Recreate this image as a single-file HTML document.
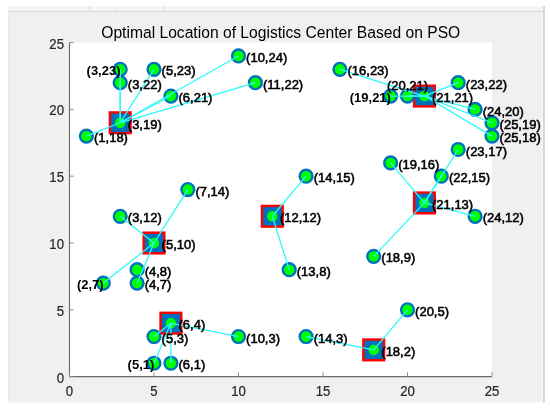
<!DOCTYPE html>
<html><head><meta charset="utf-8"><style>
html,body{margin:0;padding:0;background:#fff;}
body{width:550px;height:408px;overflow:hidden;}
svg{display:block;}
.tk{font-family:"Liberation Sans",Arial,sans-serif;font-size:13.2px;fill:#262626;stroke:#262626;stroke-width:0.2px;}
.ti{font-family:"Liberation Sans",Arial,sans-serif;font-size:15.65px;fill:#000;}
.lb{font-family:"Liberation Sans",Arial,sans-serif;font-size:13px;font-weight:normal;fill:#000;stroke:#000;stroke-width:0.55px;}
.lbb{font-weight:bold;stroke:none;}
</style></head><body>
<svg width="550" height="408" viewBox="0 0 550 408">
<rect x="8" y="6" width="537" height="396.4" fill="#f0f0f0"/>
<rect x="8" y="6" width="1.5" height="396.4" fill="#eaeaea"/>
<rect x="541.5" y="6" width="1.5" height="396.4" fill="#f6f6f6"/>
<rect x="8" y="6" width="535" height="5" fill="#f5f5f5"/>
<rect x="8" y="11" width="535" height="1" fill="#d9d9d9"/>
<rect x="543" y="6" width="2" height="396.4" fill="#d6d6d6"/>
<rect x="89" y="6.5" width="1" height="4" fill="#cfcfcf"/>
<rect x="115" y="6.5" width="1" height="4" fill="#e4e4e4"/>
<rect x="164" y="6.5" width="1" height="4" fill="#cfcfcf"/>
<rect x="69.50" y="42.60" width="422.50" height="334.00" fill="#ffffff"/>
<path d="M69.50 42.60 V376.60 H492.00" fill="none" stroke="#6a6a6a" stroke-width="1.15"/>
<line x1="69.50" y1="376.60" x2="69.50" y2="372.40" stroke="#8c8c8c" stroke-width="1"/>
<line x1="69.50" y1="376.60" x2="73.70" y2="376.60" stroke="#8c8c8c" stroke-width="1"/>
<text transform="translate(69.50,395.70) scale(1,1.07)" class="tk" text-anchor="middle">0</text>
<text transform="translate(64.00,382.50) scale(1,1.07)" class="tk" text-anchor="end">0</text>
<line x1="154.00" y1="376.60" x2="154.00" y2="372.40" stroke="#8c8c8c" stroke-width="1"/>
<line x1="69.50" y1="309.80" x2="73.70" y2="309.80" stroke="#8c8c8c" stroke-width="1"/>
<text transform="translate(154.00,395.70) scale(1,1.07)" class="tk" text-anchor="middle">5</text>
<text transform="translate(64.00,315.70) scale(1,1.07)" class="tk" text-anchor="end">5</text>
<line x1="238.50" y1="376.60" x2="238.50" y2="372.40" stroke="#8c8c8c" stroke-width="1"/>
<line x1="69.50" y1="243.00" x2="73.70" y2="243.00" stroke="#8c8c8c" stroke-width="1"/>
<text transform="translate(238.50,395.70) scale(1,1.07)" class="tk" text-anchor="middle">10</text>
<text transform="translate(64.00,248.90) scale(1,1.07)" class="tk" text-anchor="end">10</text>
<line x1="323.00" y1="376.60" x2="323.00" y2="372.40" stroke="#8c8c8c" stroke-width="1"/>
<line x1="69.50" y1="176.20" x2="73.70" y2="176.20" stroke="#8c8c8c" stroke-width="1"/>
<text transform="translate(323.00,395.70) scale(1,1.07)" class="tk" text-anchor="middle">15</text>
<text transform="translate(64.00,182.10) scale(1,1.07)" class="tk" text-anchor="end">15</text>
<line x1="407.50" y1="376.60" x2="407.50" y2="372.40" stroke="#8c8c8c" stroke-width="1"/>
<line x1="69.50" y1="109.40" x2="73.70" y2="109.40" stroke="#8c8c8c" stroke-width="1"/>
<text transform="translate(407.50,395.70) scale(1,1.07)" class="tk" text-anchor="middle">20</text>
<text transform="translate(64.00,115.30) scale(1,1.07)" class="tk" text-anchor="end">20</text>
<line x1="492.00" y1="376.60" x2="492.00" y2="372.40" stroke="#8c8c8c" stroke-width="1"/>
<line x1="69.50" y1="42.60" x2="73.70" y2="42.60" stroke="#8c8c8c" stroke-width="1"/>
<text transform="translate(492.00,395.70) scale(1,1.07)" class="tk" text-anchor="middle">25</text>
<text transform="translate(64.00,48.50) scale(1,1.07)" class="tk" text-anchor="end">25</text>
<text x="280.75" y="37.7" class="ti" text-anchor="middle">Optimal Location of Logistics Center Based on PSO</text>
<rect x="109.85" y="112.41" width="20.7" height="20.7" fill="#0072bd" stroke="#ff0000" stroke-width="2.4"/>
<rect x="414.05" y="85.69" width="20.7" height="20.7" fill="#0072bd" stroke="#ff0000" stroke-width="2.4"/>
<rect x="261.95" y="205.93" width="20.7" height="20.7" fill="#0072bd" stroke="#ff0000" stroke-width="2.4"/>
<rect x="414.05" y="192.57" width="20.7" height="20.7" fill="#0072bd" stroke="#ff0000" stroke-width="2.4"/>
<rect x="143.65" y="232.65" width="20.7" height="20.7" fill="#0072bd" stroke="#ff0000" stroke-width="2.4"/>
<rect x="160.55" y="312.81" width="20.7" height="20.7" fill="#0072bd" stroke="#ff0000" stroke-width="2.4"/>
<rect x="363.35" y="339.53" width="20.7" height="20.7" fill="#0072bd" stroke="#ff0000" stroke-width="2.4"/>
<circle cx="86.40" cy="136.12" r="6.4" fill="#00ff00" stroke="#0072bd" stroke-width="2.4"/>
<circle cx="120.20" cy="82.68" r="6.4" fill="#00ff00" stroke="#0072bd" stroke-width="2.4"/>
<circle cx="120.20" cy="69.32" r="6.4" fill="#00ff00" stroke="#0072bd" stroke-width="2.4"/>
<circle cx="154.00" cy="69.32" r="6.4" fill="#00ff00" stroke="#0072bd" stroke-width="2.4"/>
<circle cx="170.90" cy="96.04" r="6.4" fill="#00ff00" stroke="#0072bd" stroke-width="2.4"/>
<circle cx="238.50" cy="55.96" r="6.4" fill="#00ff00" stroke="#0072bd" stroke-width="2.4"/>
<circle cx="255.40" cy="82.68" r="6.4" fill="#00ff00" stroke="#0072bd" stroke-width="2.4"/>
<circle cx="339.90" cy="69.32" r="6.4" fill="#00ff00" stroke="#0072bd" stroke-width="2.4"/>
<circle cx="390.60" cy="96.04" r="6.4" fill="#00ff00" stroke="#0072bd" stroke-width="2.4"/>
<circle cx="407.50" cy="96.04" r="6.4" fill="#00ff00" stroke="#0072bd" stroke-width="2.4"/>
<circle cx="458.20" cy="82.68" r="6.4" fill="#00ff00" stroke="#0072bd" stroke-width="2.4"/>
<circle cx="475.10" cy="109.40" r="6.4" fill="#00ff00" stroke="#0072bd" stroke-width="2.4"/>
<circle cx="492.00" cy="122.76" r="6.4" fill="#00ff00" stroke="#0072bd" stroke-width="2.4"/>
<circle cx="492.00" cy="136.12" r="6.4" fill="#00ff00" stroke="#0072bd" stroke-width="2.4"/>
<circle cx="306.10" cy="176.20" r="6.4" fill="#00ff00" stroke="#0072bd" stroke-width="2.4"/>
<circle cx="289.20" cy="269.72" r="6.4" fill="#00ff00" stroke="#0072bd" stroke-width="2.4"/>
<circle cx="390.60" cy="162.84" r="6.4" fill="#00ff00" stroke="#0072bd" stroke-width="2.4"/>
<circle cx="441.30" cy="176.20" r="6.4" fill="#00ff00" stroke="#0072bd" stroke-width="2.4"/>
<circle cx="458.20" cy="149.48" r="6.4" fill="#00ff00" stroke="#0072bd" stroke-width="2.4"/>
<circle cx="475.10" cy="216.28" r="6.4" fill="#00ff00" stroke="#0072bd" stroke-width="2.4"/>
<circle cx="373.70" cy="256.36" r="6.4" fill="#00ff00" stroke="#0072bd" stroke-width="2.4"/>
<circle cx="187.80" cy="189.56" r="6.4" fill="#00ff00" stroke="#0072bd" stroke-width="2.4"/>
<circle cx="120.20" cy="216.28" r="6.4" fill="#00ff00" stroke="#0072bd" stroke-width="2.4"/>
<circle cx="103.30" cy="283.08" r="6.4" fill="#00ff00" stroke="#0072bd" stroke-width="2.4"/>
<circle cx="137.10" cy="269.72" r="6.4" fill="#00ff00" stroke="#0072bd" stroke-width="2.4"/>
<circle cx="137.10" cy="283.08" r="6.4" fill="#00ff00" stroke="#0072bd" stroke-width="2.4"/>
<circle cx="154.00" cy="336.52" r="6.4" fill="#00ff00" stroke="#0072bd" stroke-width="2.4"/>
<circle cx="238.50" cy="336.52" r="6.4" fill="#00ff00" stroke="#0072bd" stroke-width="2.4"/>
<circle cx="154.00" cy="363.24" r="6.4" fill="#00ff00" stroke="#0072bd" stroke-width="2.4"/>
<circle cx="170.90" cy="363.24" r="6.4" fill="#00ff00" stroke="#0072bd" stroke-width="2.4"/>
<circle cx="306.10" cy="336.52" r="6.4" fill="#00ff00" stroke="#0072bd" stroke-width="2.4"/>
<circle cx="407.50" cy="309.80" r="6.4" fill="#00ff00" stroke="#0072bd" stroke-width="2.4"/>
<circle cx="120.20" cy="122.76" r="5.2" fill="#00ff00"/>
<circle cx="424.40" cy="96.04" r="5.2" fill="#00ff00"/>
<circle cx="272.30" cy="216.28" r="5.2" fill="#00ff00"/>
<circle cx="424.40" cy="202.92" r="5.2" fill="#00ff00"/>
<circle cx="154.00" cy="243.00" r="5.2" fill="#00ff00"/>
<circle cx="170.90" cy="323.16" r="5.2" fill="#00ff00"/>
<circle cx="373.70" cy="349.88" r="5.2" fill="#00ff00"/>
<line x1="120.20" y1="122.76" x2="86.40" y2="136.12" stroke="#2cfafa" stroke-width="1.3"/>
<line x1="120.20" y1="122.76" x2="120.20" y2="82.68" stroke="#2cfafa" stroke-width="1.3"/>
<line x1="120.20" y1="122.76" x2="120.20" y2="69.32" stroke="#2cfafa" stroke-width="1.3"/>
<line x1="120.20" y1="122.76" x2="154.00" y2="69.32" stroke="#2cfafa" stroke-width="1.3"/>
<line x1="120.20" y1="122.76" x2="170.90" y2="96.04" stroke="#2cfafa" stroke-width="1.3"/>
<line x1="120.20" y1="122.76" x2="238.50" y2="55.96" stroke="#2cfafa" stroke-width="1.3"/>
<line x1="120.20" y1="122.76" x2="255.40" y2="82.68" stroke="#2cfafa" stroke-width="1.3"/>
<line x1="424.40" y1="96.04" x2="339.90" y2="69.32" stroke="#2cfafa" stroke-width="1.3"/>
<line x1="424.40" y1="96.04" x2="390.60" y2="96.04" stroke="#2cfafa" stroke-width="1.3"/>
<line x1="424.40" y1="96.04" x2="407.50" y2="96.04" stroke="#2cfafa" stroke-width="1.3"/>
<line x1="424.40" y1="96.04" x2="458.20" y2="82.68" stroke="#2cfafa" stroke-width="1.3"/>
<line x1="424.40" y1="96.04" x2="475.10" y2="109.40" stroke="#2cfafa" stroke-width="1.3"/>
<line x1="424.40" y1="96.04" x2="492.00" y2="122.76" stroke="#2cfafa" stroke-width="1.3"/>
<line x1="424.40" y1="96.04" x2="492.00" y2="136.12" stroke="#2cfafa" stroke-width="1.3"/>
<line x1="272.30" y1="216.28" x2="306.10" y2="176.20" stroke="#2cfafa" stroke-width="1.3"/>
<line x1="272.30" y1="216.28" x2="289.20" y2="269.72" stroke="#2cfafa" stroke-width="1.3"/>
<line x1="424.40" y1="202.92" x2="390.60" y2="162.84" stroke="#2cfafa" stroke-width="1.3"/>
<line x1="424.40" y1="202.92" x2="441.30" y2="176.20" stroke="#2cfafa" stroke-width="1.3"/>
<line x1="424.40" y1="202.92" x2="458.20" y2="149.48" stroke="#2cfafa" stroke-width="1.3"/>
<line x1="424.40" y1="202.92" x2="475.10" y2="216.28" stroke="#2cfafa" stroke-width="1.3"/>
<line x1="424.40" y1="202.92" x2="373.70" y2="256.36" stroke="#2cfafa" stroke-width="1.3"/>
<line x1="154.00" y1="243.00" x2="187.80" y2="189.56" stroke="#2cfafa" stroke-width="1.3"/>
<line x1="154.00" y1="243.00" x2="120.20" y2="216.28" stroke="#2cfafa" stroke-width="1.3"/>
<line x1="154.00" y1="243.00" x2="103.30" y2="283.08" stroke="#2cfafa" stroke-width="1.3"/>
<line x1="154.00" y1="243.00" x2="137.10" y2="283.08" stroke="#2cfafa" stroke-width="1.3"/>
<line x1="170.90" y1="323.16" x2="154.00" y2="336.52" stroke="#2cfafa" stroke-width="1.3"/>
<line x1="170.90" y1="323.16" x2="238.50" y2="336.52" stroke="#2cfafa" stroke-width="1.3"/>
<line x1="170.90" y1="323.16" x2="154.00" y2="363.24" stroke="#2cfafa" stroke-width="1.3"/>
<line x1="170.90" y1="323.16" x2="170.90" y2="363.24" stroke="#2cfafa" stroke-width="1.3"/>
<line x1="373.70" y1="349.88" x2="306.10" y2="336.52" stroke="#2cfafa" stroke-width="1.3"/>
<line x1="373.70" y1="349.88" x2="407.50" y2="309.80" stroke="#2cfafa" stroke-width="1.3"/>
<text transform="translate(127.80,128.86) scale(1,1.04)" class="lb" text-anchor="start">(3,19)</text>
<text transform="translate(94.00,142.22) scale(1,1.04)" class="lb" text-anchor="start">(1,18)</text>
<text transform="translate(127.80,88.78) scale(1,1.04)" class="lb" text-anchor="start">(3,22)</text>
<text transform="translate(120.50,75.42) scale(1,1.04)" class="lb lbb" text-anchor="end">(3,23)</text>
<text transform="translate(161.60,75.42) scale(1,1.04)" class="lb" text-anchor="start">(5,23)</text>
<text transform="translate(178.50,102.14) scale(1,1.04)" class="lb" text-anchor="start">(6,21)</text>
<text transform="translate(246.10,62.06) scale(1,1.04)" class="lb" text-anchor="start">(10,24)</text>
<text transform="translate(263.00,88.78) scale(1,1.04)" class="lb" text-anchor="start">(11,22)</text>
<text transform="translate(432.00,102.14) scale(1,1.04)" class="lb" text-anchor="start">(21,21)</text>
<text transform="translate(347.50,75.42) scale(1,1.04)" class="lb" text-anchor="start">(16,23)</text>
<text transform="translate(390.90,102.14) scale(1,1.04)" class="lb lbb" text-anchor="end">(19,21)</text>
<text transform="translate(407.50,90.04) scale(1,1.04)" class="lb" text-anchor="middle">(20,21)</text>
<text transform="translate(465.80,88.78) scale(1,1.04)" class="lb" text-anchor="start">(23,22)</text>
<text transform="translate(482.70,115.50) scale(1,1.04)" class="lb" text-anchor="start">(24,20)</text>
<text transform="translate(499.60,128.86) scale(1,1.04)" class="lb" text-anchor="start">(25,19)</text>
<text transform="translate(499.60,142.22) scale(1,1.04)" class="lb" text-anchor="start">(25,18)</text>
<text transform="translate(279.90,222.38) scale(1,1.04)" class="lb" text-anchor="start">(12,12)</text>
<text transform="translate(313.70,182.30) scale(1,1.04)" class="lb" text-anchor="start">(14,15)</text>
<text transform="translate(296.80,275.82) scale(1,1.04)" class="lb" text-anchor="start">(13,8)</text>
<text transform="translate(432.00,209.02) scale(1,1.04)" class="lb" text-anchor="start">(21,13)</text>
<text transform="translate(398.20,168.94) scale(1,1.04)" class="lb" text-anchor="start">(19,16)</text>
<text transform="translate(448.90,182.30) scale(1,1.04)" class="lb" text-anchor="start">(22,15)</text>
<text transform="translate(465.80,155.58) scale(1,1.04)" class="lb" text-anchor="start">(23,17)</text>
<text transform="translate(482.70,222.38) scale(1,1.04)" class="lb" text-anchor="start">(24,12)</text>
<text transform="translate(381.30,262.46) scale(1,1.04)" class="lb" text-anchor="start">(18,9)</text>
<text transform="translate(161.60,249.10) scale(1,1.04)" class="lb" text-anchor="start">(5,10)</text>
<text transform="translate(195.40,195.66) scale(1,1.04)" class="lb" text-anchor="start">(7,14)</text>
<text transform="translate(127.80,222.38) scale(1,1.04)" class="lb" text-anchor="start">(3,12)</text>
<text transform="translate(103.60,289.18) scale(1,1.04)" class="lb lbb" text-anchor="end">(2,7)</text>
<text transform="translate(144.70,275.82) scale(1,1.04)" class="lb" text-anchor="start">(4,8)</text>
<text transform="translate(144.70,289.18) scale(1,1.04)" class="lb" text-anchor="start">(4,7)</text>
<text transform="translate(178.50,329.26) scale(1,1.04)" class="lb" text-anchor="start">(6,4)</text>
<text transform="translate(161.60,342.62) scale(1,1.04)" class="lb" text-anchor="start">(5,3)</text>
<text transform="translate(246.10,342.62) scale(1,1.04)" class="lb" text-anchor="start">(10,3)</text>
<text transform="translate(154.30,369.34) scale(1,1.04)" class="lb lbb" text-anchor="end">(5,1)</text>
<text transform="translate(178.50,369.34) scale(1,1.04)" class="lb" text-anchor="start">(6,1)</text>
<text transform="translate(381.30,355.98) scale(1,1.04)" class="lb" text-anchor="start">(18,2)</text>
<text transform="translate(313.70,342.62) scale(1,1.04)" class="lb" text-anchor="start">(14,3)</text>
<text transform="translate(415.10,315.90) scale(1,1.04)" class="lb" text-anchor="start">(20,5)</text>
</svg>
</body></html>
